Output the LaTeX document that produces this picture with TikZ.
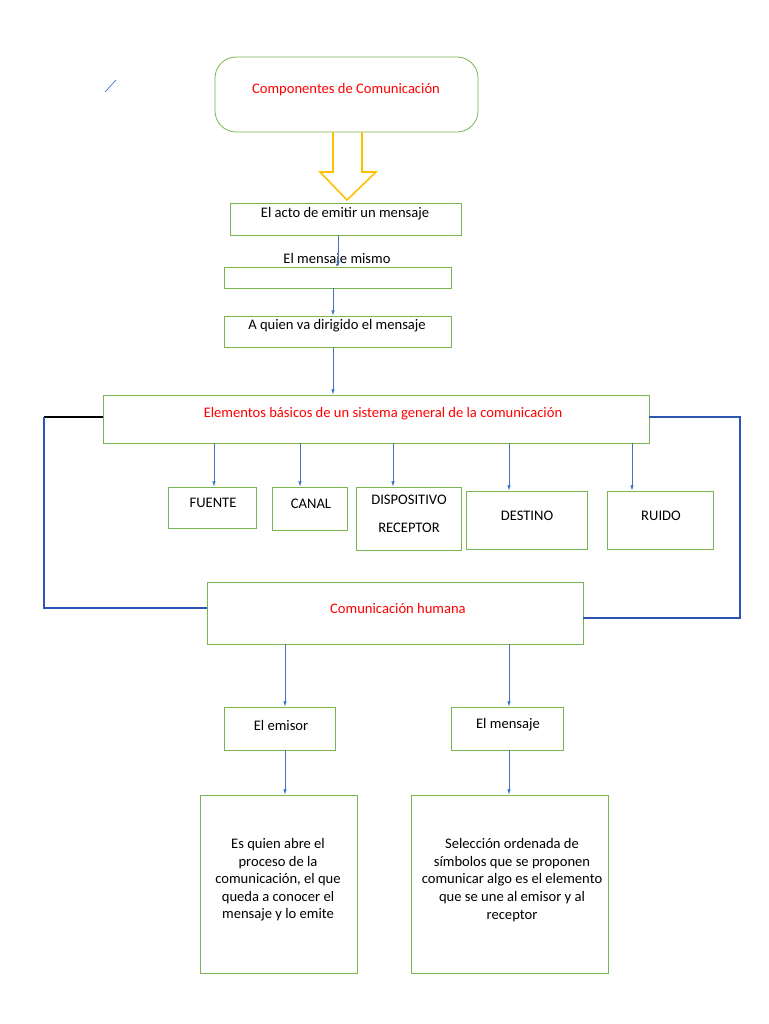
\documentclass[tikz,border=0pt]{standalone}
\usepackage{fontspec}
\setmainfont{Carlito}
\usetikzlibrary{positioning,calc,arrows.meta}
\definecolor{boxgreen}{RGB}{120,180,80}
\definecolor{arrowblue}{RGB}{68,114,196}
\definecolor{lineblue}{RGB}{47,85,180}
\definecolor{arrowyellow}{RGB}{255,192,0}
\begin{document}
\begin{tikzpicture}[x=0.02cm,y=-0.02cm,>={Latex[length=3pt,width=2pt]},
    box/.style 2 args={draw=boxgreen, line width=0.45pt, minimum width=#1*0.02cm, minimum height=#2*0.02cm, inner sep=0pt},
    txt/.style={font=\fontsize{8.3}{10}\selectfont, align=center},
    red txt/.style={txt, text=red},
    link/.style={->, draw=arrowblue, line width=0.4pt},
    side/.style={draw=lineblue, line width=1pt}]
                \useasboundingbox (0,0) rectangle (768,1024);
                \draw[arrowblue] (105,92) -- (116,80);
                % header
                \node[box={263}{75}, rounded corners=12pt] at (346.5,94.5) (comp) {};
                \node[red txt] at (346,90) {Componentes de Comunicación};
                \draw[arrowyellow, line width=0.9pt] (333,132) -- (333,172) -- (320,172) -- (347,200) -- (376,172) -- (362,172) -- (362,132);
                % chain
                \node[box={231}{32}] at (345.5,219) (acto) {};
                \node[txt] at (345,214) {El acto de emitir un mensaje};
                \node[box={227}{21}] at (337.5,277.5) (mismo) {};
                \node[txt, anchor=south] at (337,272) (mismolbl) {El mensaje mismo};
                \node[box={227}{31}] at (337.5,331.5) (quien) {};
                \node[txt] at (337,326) {A quien va dirigido el mensaje};
                \node[box={546}{48}] at (376,419) (elem) {};
                \node[red txt] at (383,414) {Elementos básicos de un sistema general de la comunicación};
                % components
                \node[box={88}{41}] at (212,507.5) (fuente) {};
                \node[txt] at (213,503) {FUENTE};
                \node[box={75}{43}] at (309.5,508.5) (canal) {};
                \node[txt] at (311,504) {CANAL};
                \node[box={105}{63}] at (408.5,518.5) (disp) {};
                \node[txt] at (409,500) {DISPOSITIVO};
                \node[txt] at (409,528) {RECEPTOR};
                \node[box={121}{58}] at (526.5,520) (destino) {};
                \node[txt] at (527,516) {DESTINO};
                \node[box={106}{58}] at (660,520) (ruido) {};
                \node[txt] at (661,516) {RUIDO};
                \node[box={376}{62}] at (395,613) (humana) {};
                \node[red txt] at (398,608) {Comunicación humana};
                % bottom
                \node[box={111}{43}] at (279.5,728.5) (emisor) {};
                \node[txt] at (281,725) {El emisor};
                \node[box={112}{43}] at (507,728.5) (mensaje) {};
                \node[txt] at (508,725) {El mensaje};
                \node[box={157}{178}] at (278.5,884) (quienabre) {};
                \node[txt] at (278,880) {Es quien abre el\\proceso de la\\comunicación, el que\\queda a conocer el\\mensaje y lo emite};
                \node[box={197}{178}] at (509.5,884) (seleccion) {};
                \node[txt] at (512,880) {Selección ordenada de\\símbolos que se proponen\\comunicar algo es el elemento\\que se une al emisor y al\\receptor};
                % connectors
                \draw[link] (acto.south -| 338,0) -- (mismo.north -| 338,0);
                \draw[link] (mismo.south -| 333,0) -- (quien.north -| 333,0);
                \draw[link] (quien.south -| 333,0) -- (elem.north -| 333,0);
                \foreach \n/\xx in {fuente/214,canal/300,disp/393,destino/509,ruido/632}
                    \draw[link] (elem.south -| \xx,0) -- (\n.north -| \xx,0);
                \draw[link] (humana.south -| 285,0) -- (emisor.north -| 285,0);
                \draw[link] (humana.south -| 509,0) -- (mensaje.north -| 509,0);
                \draw[link] (emisor.south -| 285,0) -- (quienabre.north -| 285,0);
                \draw[link] (mensaje.south -| 509,0) -- (seleccion.north -| 509,0);
                \coordinate (lcorner) at (44,417);
                \coordinate (rcorner) at (740,417);
                \draw[line width=1pt] (elem.west |- 0,417) -- (lcorner);
                \draw[side] (lcorner) -- (44,608) -- (humana.west |- 0,608);
                \draw[side] (elem.east |- 0,417) -- (rcorner) -- (740,618) -- (humana.east |- 0,618);
            \end{tikzpicture}
\end{document}
